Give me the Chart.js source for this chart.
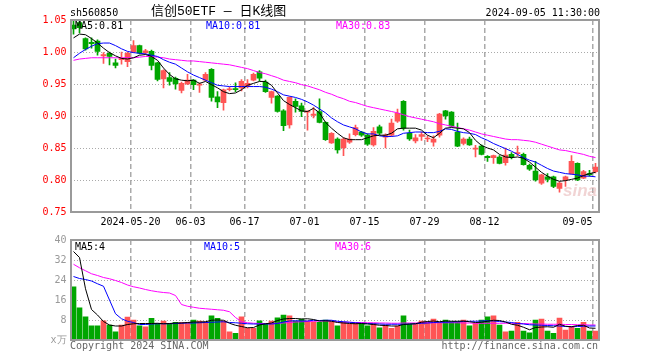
<!DOCTYPE html>
<html><head><meta charset="utf-8">
<script src="https://cdn.jsdelivr.net/npm/chart.js@4.4.1/dist/chart.umd.min.js"></script>
<style>
html,body{margin:0;padding:0;background:#fff;}
#wrap{position:relative;width:660px;height:360px;overflow:hidden;background:#fff;font-family:"DejaVu Sans Mono",monospace;font-size:10px;}
canvas{position:absolute;left:0;}
.t{position:absolute;white-space:pre;line-height:12px;}
</style></head><body>
<div id="wrap">
<canvas id="k" width="660" height="230" style="top:0"></canvas>
<canvas id="v" width="660" height="135" style="top:225px"></canvas>
<div class="t" style="left:70px;top:7px;color:#000">sh560850</div>
<div class="t" style="left:151px;top:4px;font-size:13px;line-height:15px;font-family:'Liberation Mono','Noto Sans CJK SC',monospace;color:#000">信创50ETF — 日K线图</div>
<div class="t" style="right:60px;top:7px;color:#000">2024-09-05 11:30:00</div>
<div class="t" style="left:75px;top:20px;color:#000">MA5:0.81</div>
<div class="t" style="left:206px;top:20px;color:#0000ff">MA10:0.81</div>
<div class="t" style="left:336px;top:20px;color:#ff00ff">MA30:0.83</div>
<div class="t" style="left:75px;top:241px;color:#000">MA5:4</div>
<div class="t" style="left:204px;top:241px;color:#0000ff">MA10:5</div>
<div class="t" style="left:335px;top:241px;color:#ff00ff">MA30:6</div>
<div class="t" style="left:563px;top:181px;font:italic bold 17px 'Liberation Sans',sans-serif;color:rgba(225,160,160,0.45)">sina</div>
<div class="t" style="left:70px;top:340px;color:#666">Copyright 2024 SINA.COM</div>
<div class="t" style="right:62px;top:340px;color:#666">http://finance.sina.com.cn</div>
</div>
<script>
const dates = ['05-06','05-07','05-08','05-09','05-10','05-13','05-14','05-15','05-16','05-17',
'05-20','05-21','05-22','05-23','05-24','05-27','05-28','05-29','05-30','05-31',
'06-03','06-04','06-05','06-06','06-07','06-11','06-12','06-13','06-14',
'06-17','06-18','06-19','06-20','06-21','06-24','06-25','06-26','06-27','06-28',
'07-01','07-02','07-03','07-04','07-05','07-08','07-09','07-10','07-11','07-12',
'07-15','07-16','07-17','07-18','07-19','07-22','07-23','07-24','07-25','07-26',
'07-29','07-30','07-31','08-01','08-02','08-05','08-06','08-07','08-08','08-09',
'08-12','08-13','08-14','08-15','08-16','08-19','08-20','08-21','08-22','08-23',
'08-26','08-27','08-28','08-29','08-30','09-02','09-03','09-04','09-05'];
const tickLabels = {'05-20':'2024-05-20','06-03':'06-03','06-17':'06-17','07-01':'07-01','07-15':'07-15','07-29':'07-29','08-12':'08-12','09-05':'09-05'};

const open = [1.042,1.046,1.021,1.015,1.017,0.994,0.998,0.983,0.988,0.985,
1.000,1.010,0.999,1.001,0.983,0.958,0.960,0.959,0.940,0.950,
0.956,0.948,0.956,0.973,0.930,0.921,0.941,0.943,0.944,
0.946,0.956,0.969,0.953,0.929,0.931,0.908,0.886,0.923,0.916,
0.906,0.901,0.907,0.890,0.858,0.864,0.850,0.859,0.871,0.875,
0.870,0.855,0.883,0.867,0.870,0.892,0.923,0.873,0.861,0.868,
0.864,0.859,0.870,0.908,0.906,0.875,0.857,0.864,0.848,0.853,
0.837,0.835,0.836,0.827,0.840,0.841,0.840,0.823,0.814,0.795,
0.805,0.805,0.787,0.800,0.810,0.826,0.803,0.810,0.813];
const high = [1.050,1.052,1.022,1.022,1.019,0.999,1.000,0.989,1.000,1.000,
1.018,1.011,1.004,1.003,0.984,0.972,0.968,0.961,0.953,0.965,
0.957,0.952,0.968,0.974,0.938,0.942,0.945,0.952,0.957,
0.957,0.967,0.971,0.956,0.939,0.932,0.910,0.930,0.927,0.920,
0.908,0.913,0.927,0.891,0.874,0.866,0.866,0.872,0.886,0.876,
0.872,0.882,0.886,0.872,0.895,0.911,0.924,0.878,0.871,0.875,
0.869,0.869,0.904,0.909,0.907,0.889,0.866,0.867,0.854,0.855,
0.838,0.839,0.838,0.850,0.843,0.853,0.842,0.825,0.829,0.809,
0.810,0.806,0.797,0.806,0.838,0.827,0.815,0.815,0.826];
const low = [1.028,1.030,1.003,1.006,0.995,0.982,0.980,0.975,0.981,0.977,
0.999,0.997,0.997,0.972,0.955,0.944,0.948,0.942,0.936,0.949,
0.941,0.937,0.955,0.923,0.913,0.909,0.939,0.938,0.939,
0.944,0.955,0.955,0.937,0.920,0.906,0.877,0.881,0.906,0.899,
0.878,0.897,0.889,0.862,0.857,0.842,0.838,0.857,0.869,0.868,
0.854,0.853,0.871,0.850,0.868,0.890,0.878,0.862,0.858,0.862,
0.860,0.853,0.867,0.895,0.883,0.852,0.855,0.854,0.836,0.839,
0.829,0.826,0.825,0.823,0.833,0.838,0.823,0.815,0.798,0.793,
0.797,0.788,0.781,0.790,0.809,0.799,0.802,0.806,0.811];
const close = [1.036,1.038,1.005,1.013,1.001,0.996,0.993,0.979,0.990,0.998,
1.010,0.998,1.002,0.979,0.957,0.971,0.954,0.950,0.951,0.956,
0.949,0.950,0.965,0.929,0.922,0.941,0.942,0.941,0.954,
0.951,0.965,0.959,0.938,0.938,0.907,0.885,0.929,0.915,0.907,
0.907,0.903,0.890,0.863,0.873,0.847,0.864,0.864,0.882,0.870,
0.856,0.876,0.873,0.870,0.889,0.904,0.881,0.864,0.866,0.871,
0.865,0.864,0.903,0.900,0.884,0.853,0.864,0.855,0.850,0.840,
0.835,0.838,0.826,0.839,0.836,0.843,0.824,0.817,0.800,0.808,
0.801,0.790,0.795,0.805,0.829,0.800,0.813,0.808,0.820];

const ma5 = [1.022,1.028,1.027,1.021,1.014,1.006,0.999,0.994,0.990,0.989,
0.991,0.995,0.996,0.993,0.987,0.975,0.965,0.958,0.956,0.955,
0.956,0.951,0.954,0.949,0.944,0.938,0.935,0.936,0.941,
0.948,0.951,0.954,0.954,0.948,0.936,0.924,0.918,0.913,0.908,
0.907,0.912,0.905,0.890,0.881,0.873,0.866,0.863,0.863,0.863,
0.866,0.869,0.870,0.870,0.873,0.880,0.881,0.881,0.881,0.878,
0.870,0.866,0.873,0.881,0.882,0.881,0.880,0.874,0.862,0.854,
0.850,0.847,0.840,0.836,0.835,0.836,0.834,0.828,0.820,0.812,
0.806,0.801,0.798,0.799,0.801,0.803,0.807,0.810,0.812];
const ma10 = [0.991,0.998,1.004,1.009,1.013,1.014,1.014,1.010,1.005,1.001,
0.999,0.998,0.997,0.995,0.993,0.988,0.984,0.981,0.975,0.969,
0.964,0.960,0.956,0.952,0.948,0.947,0.946,0.946,0.946,
0.946,0.946,0.946,0.945,0.942,0.938,0.933,0.931,0.929,0.926,
0.922,0.917,0.911,0.905,0.897,0.891,0.886,0.883,0.880,0.875,
0.872,0.872,0.869,0.868,0.868,0.869,0.873,0.874,0.875,0.875,
0.874,0.874,0.876,0.880,0.879,0.876,0.874,0.873,0.871,0.866,
0.862,0.857,0.853,0.849,0.845,0.840,0.835,0.831,0.828,0.823,
0.818,0.814,0.812,0.810,0.809,0.808,0.806,0.806,0.805];
const ma30 = [0.987,0.989,0.990,0.991,0.991,0.991,0.991,0.991,0.991,0.991,
0.991,0.992,0.993,0.993,0.992,0.991,0.989,0.988,0.987,0.986,
0.986,0.985,0.984,0.983,0.982,0.981,0.980,0.978,0.976,
0.974,0.971,0.968,0.966,0.963,0.960,0.956,0.954,0.952,0.949,
0.947,0.944,0.941,0.937,0.934,0.930,0.927,0.923,0.921,0.918,
0.915,0.913,0.911,0.909,0.907,0.905,0.902,0.899,0.897,0.895,
0.893,0.891,0.888,0.886,0.884,0.882,0.880,0.878,0.875,0.872,
0.870,0.868,0.866,0.864,0.863,0.863,0.862,0.861,0.859,0.856,
0.853,0.850,0.847,0.846,0.844,0.842,0.840,0.837,0.835];

const volume = [21.3,12.9,9.3,5.7,5.7,7.7,6.0,3.3,6.0,9.2,
8.0,5.7,5.3,8.7,6.7,7.6,6.7,7.1,7.1,7.1,
8.0,7.6,7.3,9.7,8.7,7.6,3.3,2.7,9.3,
4.7,4.7,7.7,6.4,7.6,8.9,10.0,9.7,7.6,8.4,
7.6,7.3,7.1,8.0,7.3,5.7,7.1,6.3,6.7,6.7,
5.7,6.7,4.9,6.0,4.7,5.6,9.7,6.3,6.3,7.6,
7.3,8.4,6.7,8.0,7.3,7.3,8.0,5.7,6.7,8.0,
9.3,9.7,6.0,3.3,3.6,7.1,3.6,2.9,8.0,8.4,
3.6,2.7,8.8,4.0,5.3,4.7,7.1,3.6,3.6];
const vma5 = [35.4,33.0,20.5,12.2,10.0,7.4,6.0,5.6,5.6,6.2,
6.5,6.6,6.6,6.6,6.7,6.5,6.6,6.8,6.8,7.0,
7.2,7.2,7.3,7.9,8.0,7.9,6.7,5.9,5.4,
4.9,5.0,6.0,6.5,6.8,7.8,8.4,8.6,8.6,8.4,
8.5,8.2,7.6,7.7,7.5,7.0,6.8,6.6,6.5,6.6,
6.4,6.2,5.9,5.8,5.6,5.6,6.2,6.4,6.5,7.1,
7.4,7.6,7.3,7.6,7.5,7.5,7.6,7.3,7.0,7.1,
7.5,7.9,7.8,7.2,6.3,5.9,5.1,4.1,5.0,5.2,
5.3,5.1,6.3,5.5,5.3,5.8,5.9,4.8,4.7];
const vma10 = [25.4,24.6,24.2,23.6,22.5,21.5,16.0,10.5,8.5,7.5,
7.0,6.2,6.2,6.4,6.5,6.5,6.5,6.6,6.7,6.8,
6.8,6.9,7.0,7.1,7.2,7.3,7.0,6.9,6.7,
6.5,6.4,6.4,6.4,6.4,6.6,7.2,7.6,7.7,7.6,
7.6,7.9,7.8,7.9,7.9,7.5,7.3,7.1,6.9,6.7,
6.6,6.5,6.4,6.3,6.3,6.3,6.3,6.4,6.5,6.7,
6.8,7.0,7.1,7.1,7.2,7.3,7.4,7.5,7.5,7.6,
7.7,7.6,7.4,7.2,7.0,6.6,6.4,6.1,6.0,5.9,
5.8,5.7,5.6,5.4,5.3,5.4,5.5,5.6,5.6];
const vma30 = [30.3,28.9,27.7,26.5,25.8,25.0,24.5,23.8,23.0,22.0,
21.3,20.8,20.2,19.7,19.3,19.0,18.8,17.8,14.2,13.5,
13.1,12.7,12.5,12.3,12.1,11.9,11.3,9.0,7.3,
6.9,6.7,6.6,6.6,6.6,6.7,6.8,7.0,7.2,7.3,
7.4,7.5,7.6,7.6,7.6,7.2,7.2,7.1,7.0,7.0,
6.9,6.9,6.8,6.8,6.7,6.7,6.8,6.8,6.8,6.9,
6.9,6.9,6.9,6.9,6.9,6.9,6.8,6.8,6.7,6.7,
6.7,6.7,6.7,6.7,6.7,6.6,6.6,6.5,6.4,6.4,
6.3,6.3,6.3,6.2,6.2,6.1,6.1,6.0,6.0];

const priceTicks = {min:0.75, max:1.05, step:0.05};
const volTicks = {min:0, max:40, step:8};

const UP = '#ff5555', DOWN = '#00a600';
const colorAt = ctx => (close[ctx.dataIndex] >= open[ctx.dataIndex]) ? UP : DOWN;
Chart.defaults.font.family = 'DejaVu Sans Mono';
Chart.defaults.font.size = 10;

const framePlugin = {id:'frame', afterDatasetsDraw(chart){
  const {ctx, chartArea:a} = chart;
  const l = Math.round(a.left), t = Math.round(a.top), r = Math.round(a.right), b = Math.round(a.bottom);
  ctx.save(); ctx.strokeStyle = '#9a9a9a'; ctx.lineWidth = 2;
  ctx.strokeRect(l, t, r - l, b - t); ctx.restore();
}};
const vGridColor = ctx => (ctx.index < dates.length && tickLabels[dates[ctx.index]]) ? '#aaaaaa' : 'rgba(0,0,0,0)';
const line = (data, color) => ({type:'line', data, borderColor:color, borderWidth:1, pointRadius:0, tension:0, order:0});

new Chart(document.getElementById('k'), {
  type:'bar',
  data:{labels:dates, datasets:[
    line(ma5,'#000000'), line(ma10,'#0000ff'), line(ma30,'#ff00ff'),
    {data:dates.map((d,i)=>[open[i], close[i]]), backgroundColor:colorAt, barThickness:5, grouped:false, minBarLength:1, order:1},
    {data:dates.map((d,i)=>[low[i], high[i]]), backgroundColor:colorAt, barThickness:1, grouped:false, order:2}
  ]},
  options:{
    responsive:false, animation:false, devicePixelRatio:1,
    layout:{padding:{left:0, right:61.5, top:20, bottom:0}},
    plugins:{legend:{display:false}, tooltip:{enabled:false}},
    scales:{
      x:{offset:true, afterFit:s=>{s.height=18;},
         grid:{offset:true, drawTicks:false, color:vGridColor, lineWidth:1.5},
         border:{display:false, dash:[5,3]},
         ticks:{autoSkip:false, maxRotation:0, minRotation:0, padding:4, labelOffset:-3, align:'inner', color:'#000',
                callback:(v,i)=>tickLabels[dates[i]] || ''}},
      y:{min:priceTicks.min, max:priceTicks.max, afterFit:s=>{s.width=70.5;},
         grid:{drawTicks:false, color:ctx=>(ctx.tick && ctx.tick.value>priceTicks.min+0.01 && ctx.tick.value<priceTicks.max-0.01)?'#aaaaaa':'rgba(0,0,0,0)'},
         border:{display:false, dash:[1,2]},
         ticks:{stepSize:priceTicks.step, color:'#ff0000', padding:4, callback:v=>Number(v).toFixed(2)}}
    }
  },
  plugins:[framePlugin]
});

new Chart(document.getElementById('v'), {
  type:'bar',
  data:{labels:dates, datasets:[
    line(vma5,'#000000'), line(vma10,'#0000ff'), line(vma30,'#ff00ff'),
    {data:volume, backgroundColor:colorAt, barThickness:5, grouped:false, order:1}
  ]},
  options:{
    responsive:false, animation:false, devicePixelRatio:1,
    layout:{padding:{left:0, right:61.5, top:15, bottom:0}},
    plugins:{legend:{display:false}, tooltip:{enabled:false}},
    scales:{
      x:{offset:true, afterFit:s=>{s.height=20;},
         grid:{offset:true, drawTicks:false, color:vGridColor, lineWidth:1.5},
         border:{display:false, dash:[5,3]},
         ticks:{display:false, autoSkip:false}},
      y:{min:volTicks.min, max:volTicks.max, afterFit:s=>{s.width=70.5;},
         grid:{drawTicks:false, color:ctx=>(ctx.tick && ctx.tick.value>volTicks.min && ctx.tick.value<volTicks.max)?'#aaaaaa':'rgba(0,0,0,0)'},
         border:{display:false, dash:[1,2]},
         ticks:{stepSize:volTicks.step, color:'#999999', padding:4, callback:v=>v===0?'x万':String(v)}}
    }
  },
  plugins:[framePlugin]
});
</script>
</body></html>
